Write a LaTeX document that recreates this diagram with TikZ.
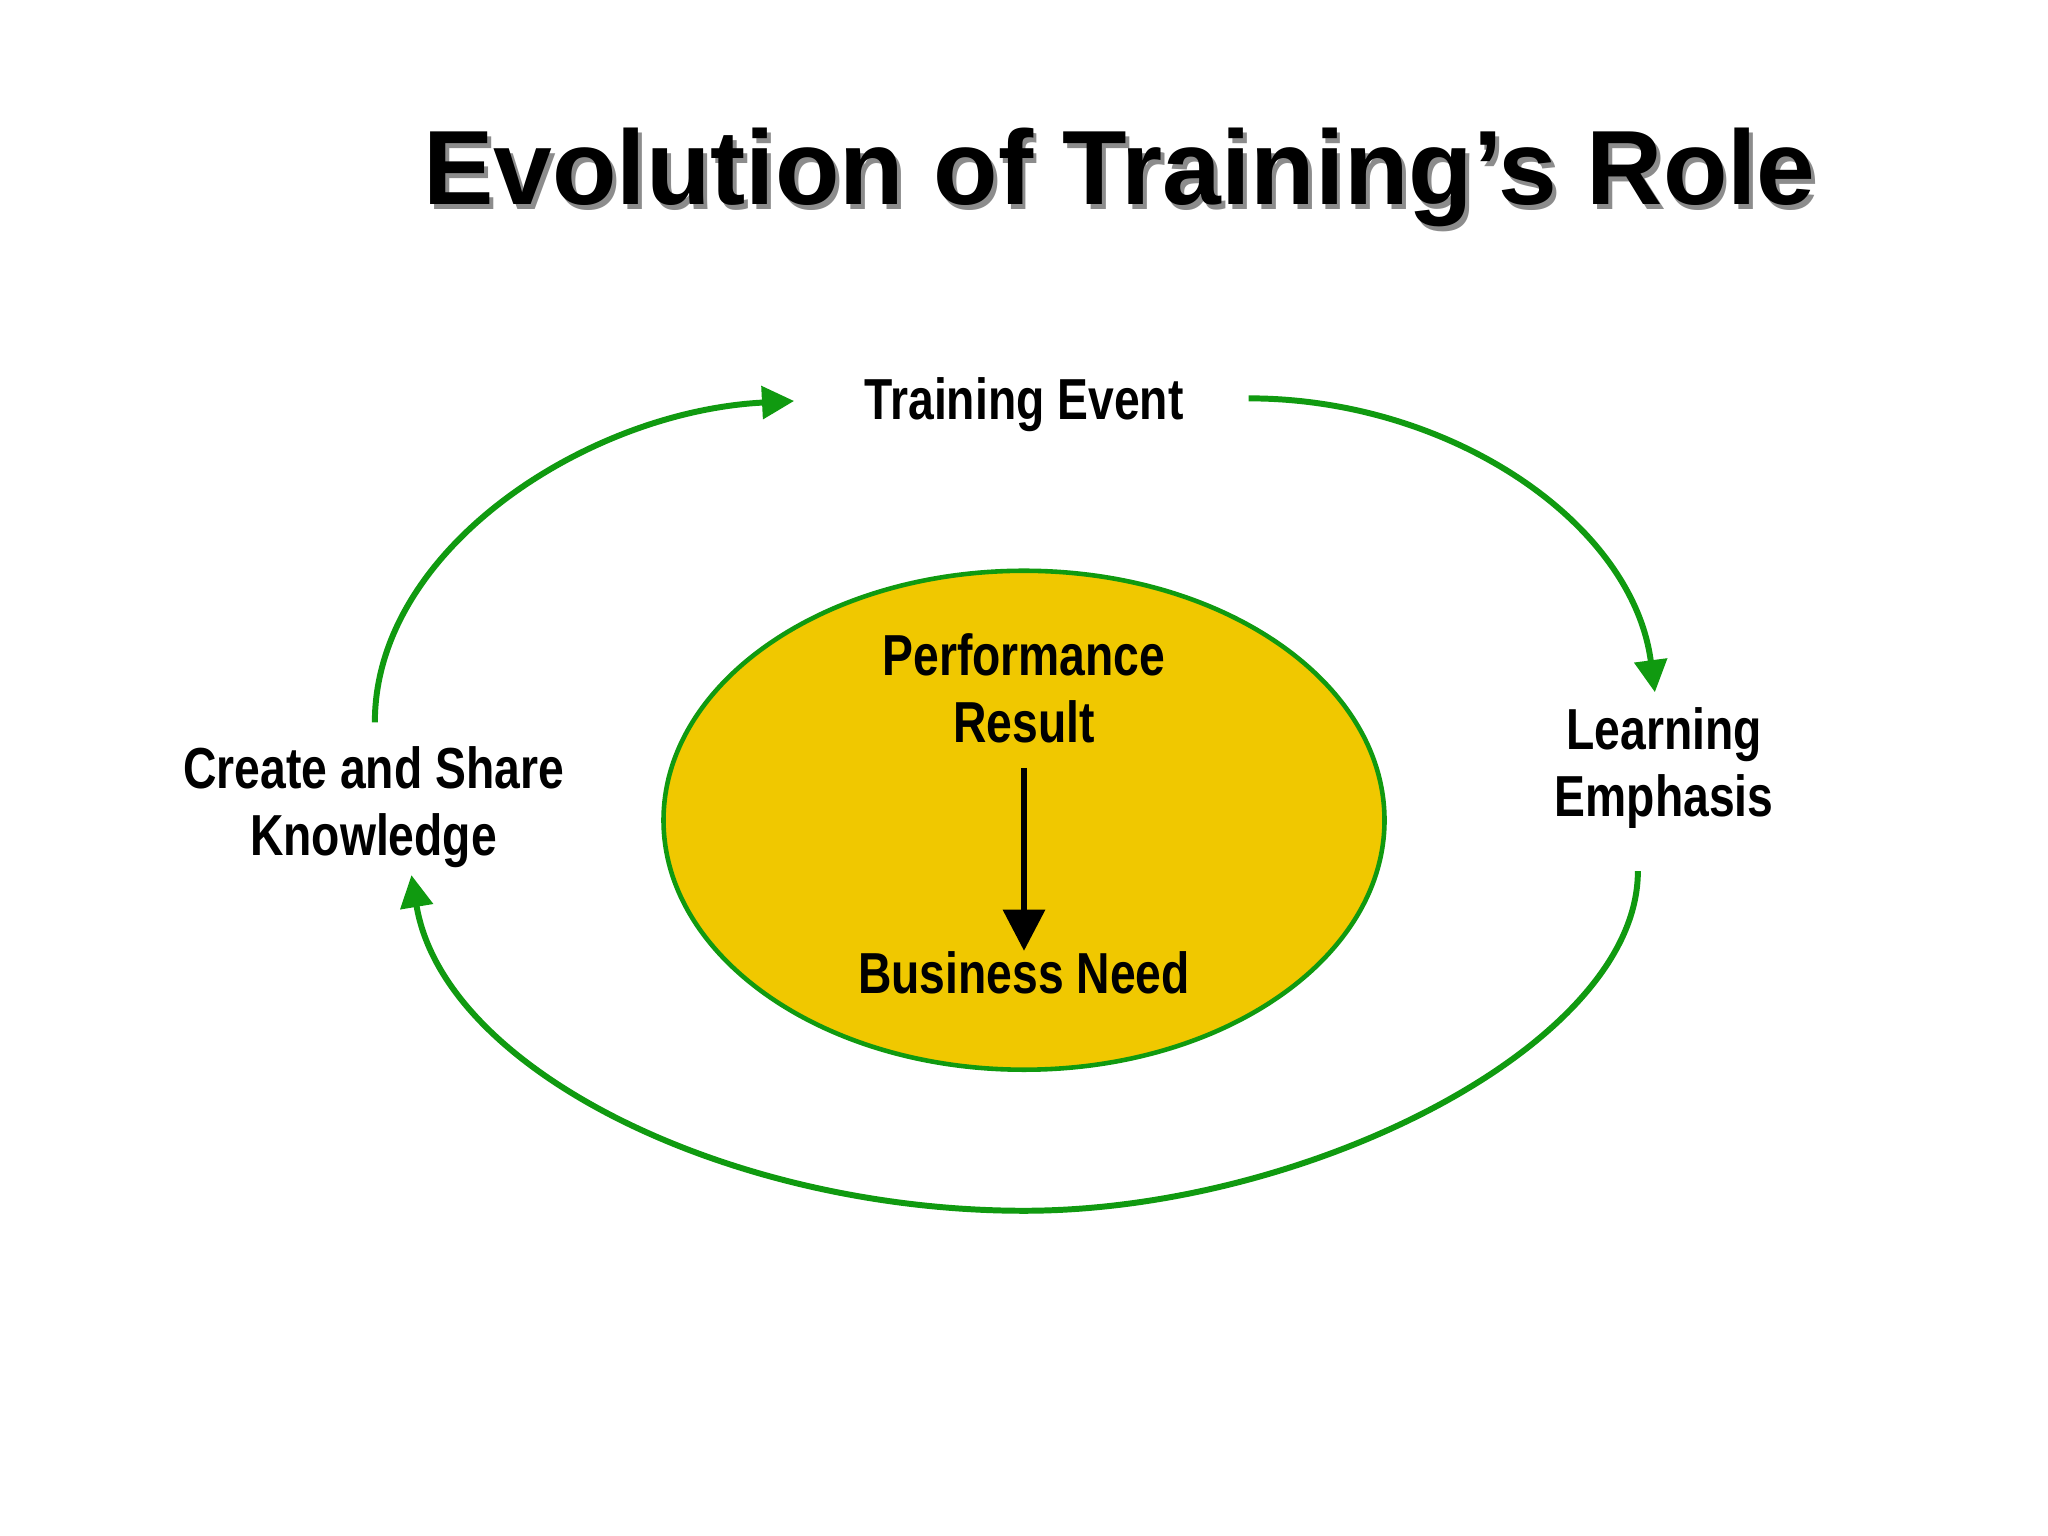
\documentclass[tikz,border=0pt]{standalone}
\usepackage{fontspec}
\setmainfont{Liberation Sans}
\usetikzlibrary{arrows.meta,shapes.geometric}
\definecolor{cgreen}{HTML}{109A10}
\definecolor{cgold}{HTML}{F0C800}
\newcommand{\narrow}[1]{\scalebox{0.8}[1]{#1}}
\tikzset{
  lbl/.style={font=\fontsize{12.6}{15.5}\selectfont\bfseries, align=center, inner sep=0pt},
  cyc/.style={cgreen, line width=1.3pt, -{Triangle[length=7pt,width=7pt]}}
}
\begin{document}
\begin{tikzpicture}[x=1cm,y=-1cm]
\useasboundingbox (0,0) rectangle (15.68,11.76);
% title
\node[text=black!45, font=\fontsize{23}{27}\selectfont\bfseries] at (8.60,1.40) {Evolution of Training’s Role};
\node[font=\fontsize{23}{27}\selectfont\bfseries] (title) at (8.57,1.36) {Evolution of Training’s Role};
% ellipse
\node[draw=cgreen, fill=cgold, line width=1pt, ellipse, minimum width=5.52cm, minimum height=3.82cm, inner sep=0pt] (ell) at (7.84,6.28) {};
\node[lbl] (perf) at (7.84,5.27) {\narrow{Performance}\\[-1pt]\narrow{Result}};
\node[lbl] (bus) at (7.84,7.45) {\narrow{Business Need}};
\coordinate (a1) at (7.84,5.88);
\coordinate (a2) at (7.84,7.28);
\draw[black, line width=1.3pt, -{Triangle[length=9pt,width=9pt]}] (a1) -- (a2);
% labels
\node[lbl] (te) at (7.84,3.10) {\narrow{Training Event}};
\node[lbl] (le) at (12.74,5.88) {\narrow{Learning}\\[-1pt]\narrow{Emphasis}};
\node[lbl] (cs) at (2.86,6.18) {\narrow{Create and Share}\\[-1pt]\narrow{Knowledge}};
% cycle coordinates
\coordinate (p1) at (2.87,5.53);
\coordinate (p2) at (6.08,3.07);
\coordinate (p3) at (9.56,3.05);
\coordinate (p4) at (12.67,5.30);
\coordinate (p5) at (12.54,6.67);
\coordinate (p6) at (3.15,6.70);
\draw[cyc] (p1) .. controls (2.87,4.20) and (4.50,3.15) .. (p2);
\draw[cyc] (p3) .. controls (11.10,3.05) and (12.50,4.00) .. (p4);
\draw[cyc] (p5) .. controls (12.54,8.00) and (10.00,9.27) .. (7.84,9.27) .. controls (5.60,9.27) and (3.40,8.20) .. (p6);
\end{tikzpicture}
\end{document}
